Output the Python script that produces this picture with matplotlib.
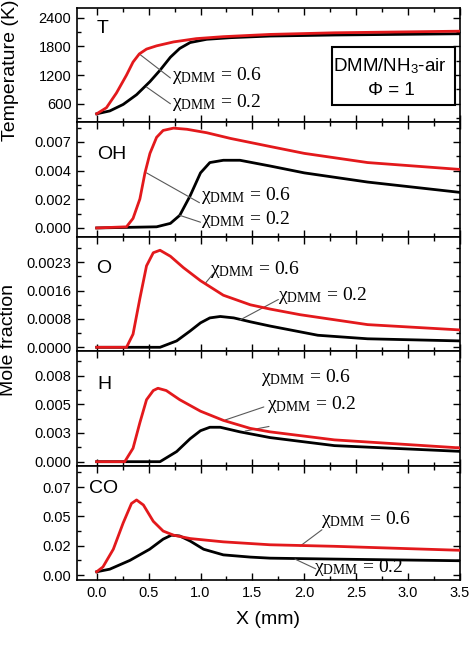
import numpy as np
import matplotlib
matplotlib.use('Agg')
import matplotlib.pyplot as plt
from matplotlib.ticker import MultipleLocator, AutoMinorLocator
from matplotlib.patches import Rectangle

plt.rcParams['font.family'] = 'Liberation Sans'
plt.rcParams['mathtext.fontset'] = 'custom'
plt.rcParams['mathtext.rm'] = 'Liberation Serif'
plt.rcParams['mathtext.it'] = 'Liberation Serif:italic'
plt.rcParams['mathtext.sf'] = 'Liberation Sans'

# ---- data (x in mm) ----
# Temperature (K)
t_red_x = [0, 0.094, 0.19, 0.287, 0.35, 0.41, 0.48, 0.577, 0.74, 0.96, 1.22, 1.67, 2.29, 3.5]
t_red_y = [390, 518, 825, 1200, 1473, 1643, 1745, 1813, 1895, 1964, 2005, 2052, 2086, 2120]
t_blk_x = [0, 0.126, 0.255, 0.384, 0.513, 0.61, 0.71, 0.80, 0.90, 1.06, 1.29, 1.67, 2.3, 3.5]
t_blk_y = [390, 450, 586, 790, 1064, 1302, 1575, 1759, 1882, 1950, 1984, 2018, 2040, 2066]

# OH
oh_red_x = [0, 0.287, 0.35, 0.416, 0.465, 0.513, 0.577, 0.64, 0.74, 0.87, 1.06, 1.29,
            1.67, 2.0, 2.61, 3.5]
oh_red_y = [0, 0.0001, 0.00083, 0.00253, 0.0048, 0.0065, 0.0079, 0.0085, 0.0087, 0.0086,
            0.0083, 0.0078, 0.0071, 0.0065, 0.0057, 0.0051]
oh_blk_x = [0, 0.577, 0.71, 0.80, 0.90, 1.0, 1.09, 1.22, 1.38, 1.67, 2.0, 2.61, 3.5]
oh_blk_y = [0, 0.0001, 0.0004, 0.0011, 0.0028, 0.0048, 0.0057, 0.0059, 0.0059, 0.0054,
            0.0048, 0.0040, 0.0031]

# O
o_red_x = [0, 0.287, 0.35, 0.416, 0.48, 0.545, 0.61, 0.71, 0.835, 1.0, 1.22, 1.48, 1.67,
           1.96, 2.61, 3.5]
o_red_y = [0, 0, 0.00037, 0.00138, 0.0023, 0.00267, 0.00274, 0.00257, 0.00225, 0.00188,
           0.00147, 0.0012, 0.00108, 0.00092, 0.00064, 0.00049]
o_blk_x = [0, 0.61, 0.77, 0.90, 1.0, 1.09, 1.19, 1.32, 1.48, 1.67, 2.13, 2.61, 3.5]
o_blk_y = [0, 0, 0.00018, 0.00046, 0.00069, 0.00083, 0.00087, 0.00083, 0.00072, 0.0006,
           0.00034, 0.00024, 0.00018]

# H
h_red_x = [0, 0.27, 0.35, 0.416, 0.48, 0.545, 0.59, 0.67, 0.80, 1.0, 1.22, 1.48, 1.67,
           2.29, 3.5]
h_red_y = [0, 0, 0.00117, 0.0034, 0.0054, 0.0062, 0.0064, 0.0062, 0.0054, 0.0044, 0.0036,
           0.0029, 0.0026, 0.0019, 0.0012]
h_blk_x = [0, 0.61, 0.77, 0.90, 1.0, 1.09, 1.19, 1.38, 1.67, 2.29, 3.5]
h_blk_y = [0, 0, 0.00088, 0.0020, 0.0027, 0.0030, 0.0030, 0.0026, 0.0021, 0.0014, 0.0009]

# CO
co_red_x = [0, 0.06, 0.16, 0.255, 0.335, 0.384, 0.45, 0.545, 0.64, 0.74, 0.90, 1.22, 1.67,
            2.29, 3.5]
co_red_y = [0.0028, 0.0069, 0.022, 0.0444, 0.061, 0.064, 0.0597, 0.0458, 0.0375, 0.034,
            0.0311, 0.0283, 0.0258, 0.0245, 0.0211]
co_blk_x = [0, 0.126, 0.32, 0.51, 0.64, 0.72, 0.80, 0.90, 1.03, 1.22, 1.48, 1.67, 2.29, 3.5]
co_blk_y = [0.0028, 0.005, 0.0125, 0.022, 0.0306, 0.034, 0.0333, 0.029, 0.022, 0.0172,
            0.0153, 0.0144, 0.0136, 0.0122]

names = ['T', 'OH', 'O', 'H', 'CO']
red_x = [t_red_x, oh_red_x, o_red_x, h_red_x, co_red_x]
red_y = [t_red_y, oh_red_y, o_red_y, h_red_y, co_red_y]
blk_x = [t_blk_x, oh_blk_x, o_blk_x, h_blk_x, co_blk_x]
blk_y = [t_blk_y, oh_blk_y, o_blk_y, h_blk_y, co_blk_y]

ytick_vals = [[600, 1200, 1800, 2400],
              [0, 0.0025, 0.005, 0.0075],
              [0, 0.0008, 0.0016, 0.0024],
              [0, 0.0025, 0.005, 0.0075],
              [0, 0.025, 0.05, 0.075]]
ytick_labels = [['600', '1200', '1800', '2400'],
                ['0.000', '0.002', '0.004', '0.007'],
                ['0.0000', '0.0008', '0.0016', '0.0023'],
                ['0.000', '0.003', '0.005', '0.008'],
                ['0.00', '0.02', '0.05', '0.07']]
ylims = [(210, 2605), (-0.00077, 0.0092), (-0.00011, 0.00312),
         (-0.00034, 0.00963), (-0.0042, 0.0933)]

# labels: (text x, text y) and leader lines (from curve point, to text)
lab06 = [(0.73, 1193), (1.0, 0.0028), (1.09, 0.0022), (1.58, 0.0073), (2.16, 0.047)]
lab02 = [(0.73, 620), (1.0, 0.00077), (1.75, 0.00146), (1.64, 0.0050), (2.09, 0.0067)]
lead_a = [((0.41, 1643), (0.71, 1140)), ((0.48, 0.0048), (0.99, 0.0022)),
          ((1.05, 0.00182), (1.12, 0.00207)), ((1.24, 0.00364), (1.61, 0.00477)),
          ((1.96, 0.0247), (2.17, 0.0386))]
lead_b = [((0.48, 950), (0.71, 600)), ((0.80, 0.0011), (1.0, 0.0005)),
          ((1.38, 0.00077), (1.75, 0.00135)), ((1.43, 0.00267), (1.66, 0.00307)),
          ((1.91, 0.0136), (2.11, 0.0053))]
name_pos = [(0.052, 0.82), (0.052, 0.72), (0.05, 0.72), (0.052, 0.71), (0.031, 0.80)]

red = '#e3191c'

fig = plt.figure(figsize=(4.74, 6.51), dpi=100)
axes = fig.subplots(5, 1, sharex=True)
fig.subplots_adjust(left=0.1624, right=0.9705, top=0.9877, bottom=0.1091, hspace=0)

for i, ax in enumerate(axes):
    ax.plot(blk_x[i], blk_y[i], color='black', lw=2.0, zorder=3,
            solid_joinstyle='round')
    ax.plot(red_x[i], red_y[i], color=red, lw=2.0, zorder=4,
            solid_joinstyle='round')
    ax.set_xlim(-0.19, 3.5)
    ax.set_ylim(*ylims[i])
    ax.set_yticks(ytick_vals[i])
    ax.set_yticklabels(ytick_labels[i])
    ax.yaxis.set_minor_locator(AutoMinorLocator(2))
    ax.xaxis.set_major_locator(MultipleLocator(0.5))
    ax.xaxis.set_minor_locator(MultipleLocator(0.25))
    ax.tick_params(which='both', direction='in', top=True, right=True, width=1,
                   labelsize=10.5, pad=4)
    ax.tick_params(which='major', length=5)
    ax.tick_params(which='minor', length=3)
    for s in ax.spines.values():
        s.set_linewidth(1.2)
    ax.text(name_pos[i][0], name_pos[i][1], names[i], transform=ax.transAxes,
            fontsize=14, ha='left', va='center')
    for (p0, p1) in (lead_a[i], lead_b[i]):
        ax.annotate('', xy=p0, xytext=p1,
                    arrowprops=dict(arrowstyle='-', color='0.35', lw=0.8,
                                    shrinkA=0, shrinkB=0))
    ax.text(lab06[i][0], lab06[i][1], r'χ$_{\mathrm{DMM}}$ = 0.6',
            family='Liberation Serif', fontsize=14, ha='left', va='center', zorder=5)
    ax.text(lab02[i][0], lab02[i][1], r'χ$_{\mathrm{DMM}}$ = 0.2',
            family='Liberation Serif', fontsize=14, ha='left', va='center', zorder=5)

# info box in the temperature panel
ax0 = axes[0]
ax0.add_patch(Rectangle((0.666, 0.154), 0.321, 0.504, transform=ax0.transAxes,
                        fc='white', ec='black', lw=1.5, zorder=6))
ax0.text(0.817, 0.496, r'DMM/NH$_\mathsf{3}$-air', transform=ax0.transAxes,
         fontsize=13.5, ha='center', va='center', zorder=7)
ax0.text(0.822, 0.282, 'Φ = 1', transform=ax0.transAxes,
         fontsize=13.5, ha='center', va='center', zorder=7)

axes[-1].set_xlabel('X (mm)', fontsize=14, labelpad=8)
fig.text(0.023, 1 - 70 / 651, 'Temperature (K)', rotation=90, fontsize=14,
         ha='center', va='center')
fig.text(0.018, 1 - 340 / 651, 'Mole fraction', rotation=90, fontsize=14,
         ha='center', va='center')

fig.savefig('out.png', dpi=100)
